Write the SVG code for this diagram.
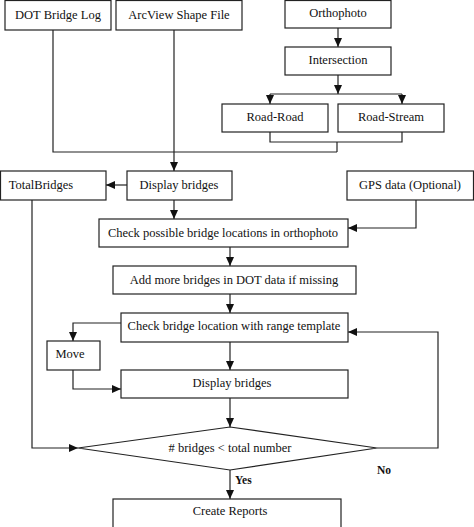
<svg xmlns="http://www.w3.org/2000/svg" width="474" height="527" viewBox="0 0 474 527">
<style>
.b{fill:#fff;stroke:#222;stroke-width:1.2}
.t{font-family:"Liberation Serif","Times New Roman",serif;font-size:12.5px;fill:#111;text-anchor:middle}
.l{font-family:"Liberation Serif","Times New Roman",serif;font-size:11.5px;font-weight:bold;fill:#111}
.c path{fill:none;stroke:#222;stroke-width:1.2}
</style>
<defs>
<marker id="a" markerUnits="userSpaceOnUse" markerWidth="9" markerHeight="8" refX="9" refY="4" orient="auto">
<path d="M0,0 L9,4 L0,8 z" fill="#111"/>
</marker>
</defs>
<rect width="474" height="527" fill="#fff"/>
<g class="c">
<path d="M53,30 V152 H337"/>
<path d="M174,30 V171" marker-end="url(#a)"/>
<path d="M338,28 V47" marker-end="url(#a)"/>
<path d="M338,75 V94" marker-end="url(#a)"/>
<path d="M270,94 H402"/>
<path d="M270,94 V104" marker-end="url(#a)"/>
<path d="M402,94 V104" marker-end="url(#a)"/>
<path d="M270,132 V142 H402 V132"/>
<path d="M337,142 V152"/>
<path d="M127,185 H106" marker-end="url(#a)"/>
<path d="M174,200 V219" marker-end="url(#a)"/>
<path d="M416,200 V228 H348" marker-end="url(#a)"/>
<path d="M230,247 V266" marker-end="url(#a)"/>
<path d="M230,294 V313" marker-end="url(#a)"/>
<path d="M121,323 H73 V341" marker-end="url(#a)"/>
<path d="M73,370 V389 H121" marker-end="url(#a)"/>
<path d="M230,342 V370" marker-end="url(#a)"/>
<path d="M230,398 V427" marker-end="url(#a)"/>
<path d="M32,200 V448 H78" marker-end="url(#a)"/>
<path d="M230,470 V499" marker-end="url(#a)"/>
<path d="M377,448 H438 V332 H348" marker-end="url(#a)"/>
</g>
<g id="dot"><rect class="b" x="5" y="0.5" width="106" height="29.5"/><text class="t" x="58" y="19">DOT Bridge Log</text></g>
<g id="arcview"><rect class="b" x="116" y="0.5" width="126" height="29.5"/><text class="t" x="179" y="19">ArcView Shape File</text></g>
<g id="ortho"><rect class="b" x="285" y="0.5" width="106" height="27.5"/><text class="t" x="338" y="17">Orthophoto</text></g>
<g id="inter"><rect class="b" x="285" y="47" width="106" height="28"/><text class="t" x="338" y="64">Intersection</text></g>
<g id="roadroad"><rect class="b" x="222" y="104" width="106" height="28"/><text class="t" x="275" y="121">Road-Road</text></g>
<g id="roadstream"><rect class="b" x="338" y="104" width="106" height="28"/><text class="t" x="391" y="121">Road-Stream</text></g>
<g id="total"><rect class="b" x="0.5" y="171" width="105.5" height="29"/><text class="t" x="41" y="189">TotalBridges</text></g>
<g id="display1"><rect class="b" x="127" y="171" width="105" height="29"/><text class="t" x="179" y="189">Display bridges</text></g>
<g id="gps"><rect class="b" x="347" y="171" width="126.5" height="29"/><text class="t" x="410" y="189">GPS data (Optional)</text></g>
<g id="checkpos"><rect class="b" x="99" y="219" width="249" height="28"/><text class="t" x="223" y="237">Check possible bridge locations in orthophoto</text></g>
<g id="addmore"><rect class="b" x="113" y="266" width="243" height="28"/><text class="t" x="234" y="284">Add more bridges in DOT data if missing</text></g>
<g id="checkrange"><rect class="b" x="121" y="313" width="227" height="29"/><text class="t" x="234" y="330">Check bridge location with range template</text></g>
<g id="move"><rect class="b" x="47" y="341" width="53" height="29"/><text class="t" x="70" y="358">Move</text></g>
<g id="display2"><rect class="b" x="121" y="370" width="227" height="28"/><text class="t" x="232" y="387">Display bridges</text></g>
<g id="decision"><path class="b" d="M230,427 L377,448 L230,470 L78,448 Z"/><text class="t" x="230" y="452">#  bridges &lt; total number</text></g>
<g id="reports"><rect class="b" x="113" y="499" width="228" height="40"/><text class="t" x="230" y="515">Create Reports</text></g>
<text class="l" x="235" y="484">Yes</text>
<text class="l" x="377" y="474">No</text>
</svg>
